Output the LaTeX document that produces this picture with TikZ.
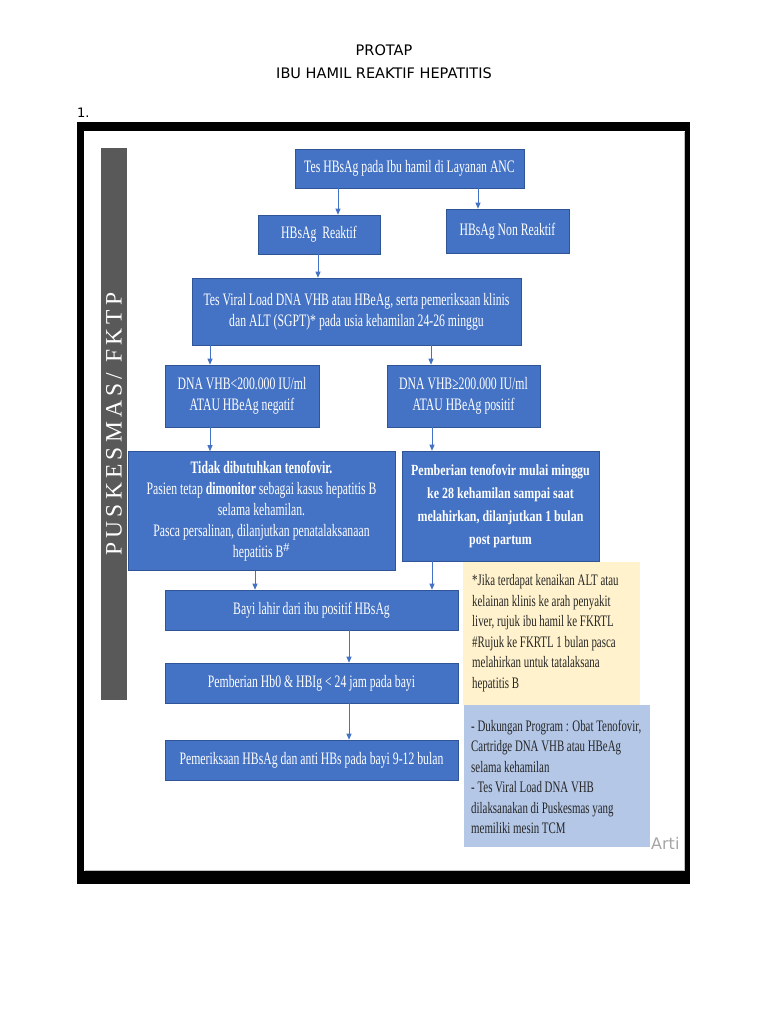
\documentclass[tikz,border=0pt]{standalone}
\usepackage{fontspec}
\usepackage{tikz}
\usetikzlibrary{arrows.meta, positioning, calc}

\setmainfont{Liberation Serif}
\newfontfamily\boxfont[FakeStretch=0.67]{Liberation Serif}
\newfontfamily\boldboxfont[FakeStretch=0.77]{Liberation Serif}
\newfontfamily\notefont[FakeStretch=0.68]{Liberation Serif}
\newfontfamily\titlefont{DejaVu Sans}
\newfontfamily\sidefont[LetterSpace=18]{Liberation Serif}
\newfontfamily\markfont{DejaVu Sans}

\definecolor{blokblue}{HTML}{4472C4}
\definecolor{blokedge}{HTML}{2F5597}
\definecolor{noteyellow}{HTML}{FFF2CC}
\definecolor{noteblue}{HTML}{B4C7E7}
\definecolor{sidegray}{HTML}{595959}

\tikzset{
  blok/.style={draw=blokedge, line width=0.6pt, fill=blokblue, text=white,
    align=center, inner sep=0pt, font=\boxfont\fontsize{17.5}{21}\selectfont},
  note/.style={inner sep=0pt, align=left, text=black!85,
    font=\notefont\fontsize{16}{20.5}\selectfont},
  arr/.style={draw=blokblue, line width=0.8pt, -{Triangle[length=6pt,width=5pt]}}
}

\begin{document}
\begin{tikzpicture}[x=1pt, y=-1pt]
\useasboundingbox (0,0) rectangle (768,1024);

% Title
\node[font=\titlefont\fontsize{14.5}{23}\selectfont, align=center] (judul) at (384,62)
  {PROTAP\\IBU HAMIL REAKTIF HEPATITIS};
\node[font=\titlefont\fontsize{13}{15}\selectfont, anchor=west, inner sep=0pt] (nomor) at (77,113) {1.};

% Frame
\fill[black] (77,122) rectangle (690,884);
\fill[white] (84,131) rectangle (685,871);
\draw[black!25, line width=1pt] (85,870.5) -- (684.5,870.5) -- (684.5,132);

% Side bar
\node[fill=sidegray, text=white, rotate=90, minimum width=552, minimum height=26,
  inner sep=0pt, font=\sidefont\fontsize{23.5}{24}\selectfont] (fktp) at (114,424) {PUSKESMAS/ FKTP};

% Boxes
\node[blok, minimum width=229, minimum height=39] (tes) at (409.5,168.5)
  {Tes HBsAg pada Ibu hamil di Layanan ANC};
\node[blok, minimum width=122, minimum height=39] (reaktif) at (319,234.5)
  {HBsAg\ \ Reaktif};
\node[blok, minimum width=123, minimum height=44] (nonreaktif) at (507.5,231)
  {HBsAg Non Reaktif};
\node[blok, minimum width=329, minimum height=67] (viral) at (356.5,311.5)
  {Tes Viral Load DNA VHB atau HBeAg, serta pemeriksaan klinis\\
   dan ALT (SGPT)* pada usia kehamilan 24-26 minggu};
\node[blok, minimum width=154, minimum height=62] (negatif) at (242,396)
  {DNA VHB<200.000 IU/ml\\ATAU HBeAg negatif};
\node[blok, minimum width=153, minimum height=62] (positif) at (463.5,396)
  {DNA VHB≥200.000 IU/ml\\ATAU HBeAg positif};
\node[blok, minimum width=267, minimum height=119] (tidak) at (261.5,511)
  {\textbf{Tidak dibutuhkan tenofovir.}\\
   Pasien tetap \textbf{dimonitor} sebagai kasus hepatitis B\\
   selama kehamilan.\\
   Pasca persalinan, dilanjutkan penatalaksanaan\\
   hepatitis B$^{\#}$};
\node[blok, minimum width=197, minimum height=110,
  font=\boldboxfont\fontsize{15.5}{23}\selectfont\bfseries] (tenofovir) at (500.5,506)
  {Pemberian tenofovir mulai minggu\\
   ke 28 kehamilan sampai saat\\
   melahirkan, dilanjutkan 1 bulan\\
   post partum};
\node[blok, minimum width=293, minimum height=40] (bayi) at (311.5,610)
  {Bayi lahir dari ibu positif HBsAg};
\node[blok, minimum width=293, minimum height=40] (hbnol) at (311.5,683)
  {Pemberian Hb0 \& HBIg < 24 jam pada bayi};
\node[blok, minimum width=293, minimum height=40] (periksa) at (311.5,760)
  {Pemeriksaan HBsAg dan anti HBs pada bayi 9-12 bulan};

% Notes
\fill[noteyellow] (463,562) rectangle (640,705);
\node[note, anchor=west] (catatan) at (472,633)
  {*Jika terdapat kenaikan ALT atau\\
   kelainan klinis ke arah penyakit\\
   liver, rujuk ibu hamil ke FKRTL\\
   \#Rujuk ke FKRTL 1 bulan pasca\\
   melahirkan untuk tatalaksana\\
   hepatitis B};
\fill[noteblue] (464,705) rectangle (650,847);
\node[note, anchor=west] (dukungan) at (471,777)
  {- Dukungan Program : Obat Tenofovir,\\
   Cartridge DNA VHB atau HBeAg\\
   selama kehamilan\\
   - Tes Viral Load DNA VHB\\
   dilaksanakan di Puskesmas yang\\
   memiliki mesin TCM};
\node[font=\markfont\fontsize{16}{18}\selectfont, text=black!35, anchor=west, inner sep=0pt] (arti) at (651,843) {Arti};

% Arrows
\draw[arr] (tes.south -| 338,0) -- (reaktif.north -| 338,0);
\draw[arr] (tes.south -| 478,0) -- (nonreaktif.north -| 478,0);
\draw[arr] (reaktif.south -| 318,0) -- (viral.north -| 318,0);
\draw[arr] (viral.south -| 210,0) -- (negatif.north -| 210,0);
\draw[arr] (viral.south -| 431,0) -- (positif.north -| 431,0);
\draw[arr] (negatif.south -| 210,0) -- (tidak.north -| 210,0);
\draw[arr] (positif.south -| 432,0) -- (tenofovir.north -| 432,0);
\draw[arr] (tidak.south -| 255,0) -- (bayi.north -| 255,0);
\draw[arr] (tenofovir.south -| 432,0) -- (bayi.north -| 432,0);
\draw[arr] (bayi.south -| 349,0) -- (hbnol.north -| 349,0);
\draw[arr] (hbnol.south -| 349,0) -- (periksa.north -| 349,0);
\end{tikzpicture}
\end{document}
